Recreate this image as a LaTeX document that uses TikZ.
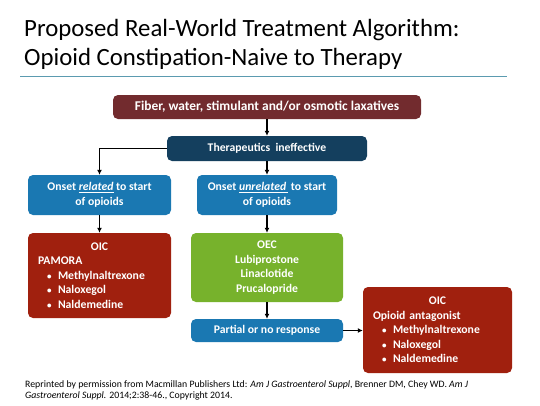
\documentclass[tikz,border=0pt]{standalone}
\usepackage{fontspec}
\setmainfont{Carlito}
\usetikzlibrary{arrows.meta}

\definecolor{topred}{HTML}{722B2E}
\definecolor{oicred}{HTML}{A0200E}
\definecolor{navy}{HTML}{143F5E}
\definecolor{onsetblue}{HTML}{1A78B2}
\definecolor{oecgreen}{HTML}{77B22C}
\definecolor{rulecol}{HTML}{5B9BB0}

\newcommand{\bul}{\hspace*{9pt}\makebox[11pt][l]{\fontsize{9}{0}\selectfont\textbullet}}

\begin{document}
\begin{tikzpicture}[x=1pt,y=-1pt,>={Latex[length=5pt,width=5pt]},
  every node/.style={font=\bfseries\fontsize{11.7}{14.5}\selectfont,text=white},
  box/.style={rounded corners=5pt,inner sep=0pt},
  link/.style={->,line width=1.3pt}]
  \useasboundingbox[fill=white] (0,0) rectangle (540,405);
  % title
  \node[anchor=north west,align=left,inner sep=0pt,text=black,
    font=\fontsize{24.8}{28.5}\selectfont] (title) at (24,19.5)
    {Proposed Real-World Treatment Algorithm:\\Opioid Constipation-Naive to Therapy};
  \draw[rulecol,line width=0.8pt] (20,76) -- (507,76);
  % boxes
  \node[box,fill=topred,minimum width=308,minimum height=24,
    font=\bfseries\fontsize{13.4}{15}\selectfont] (laxatives) at (267,107)
    {Fiber, water, stimulant and/or osmotic laxatives};
  \node[box,fill=navy,minimum width=200,minimum height=25] (ineffective) at (267,148.5)
    {Therapeutics\ \ ineffective};
  \node[box,fill=onsetblue,minimum width=143,minimum height=40,align=center] (related)
    at (99.5,195) {Onset \textit{\underline{related}} to start\\of opioids};
  \node[box,fill=onsetblue,minimum width=140,minimum height=40,align=center] (unrelated)
    at (267,195) {Onset \textit{\underline{unrelated\,}} to start\\of opioids};
  \node[box,fill=oicred,minimum width=143,minimum height=85,text width=123,align=left]
    (pamora) at (99.5,275.5)
    {\makebox[123pt]{OIC}\\PAMORA\\\bul Methylnaltrexone\\\bul Naloxegol\\\bul Naldemedine};
  \node[box,fill=oecgreen,minimum width=152,minimum height=69,align=center] (oec)
    at (267,267.5) {OEC\\Lubiprostone\\Linaclotide\\Prucalopride};
  \node[box,fill=onsetblue,minimum width=152,minimum height=23] (partial)
    at (267,330.5) {Partial or no response};
  \node[box,fill=oicred,minimum width=149,minimum height=86,text width=129,align=left]
    (antagonist) at (437.5,330)
    {\makebox[129pt]{OIC}\\Opioid antagonist\\\bul Methylnaltrexone\\\bul Naloxegol\\\bul Naldemedine};
  % arrows
  \draw[link] (laxatives) -- (ineffective);
  \draw[link] (ineffective.west) -| (related.north);
  \draw[link] (ineffective) -- (unrelated);
  \draw[link] (related) -- (pamora);
  \draw[link] (unrelated) -- (oec);
  \draw[link] (oec) -- (partial);
  \draw[link] (partial.east) -- (partial.east -| antagonist.west);
  % source
  \node[anchor=north west,align=left,inner sep=0pt,text=black,
    font=\fontsize{9.8}{11.5}\selectfont] (source) at (25,380)
    {Reprinted by permission from Macmillan Publishers Ltd: \textit{Am J Gastroenterol Suppl}, Brenner DM, Chey WD. \textit{Am J}\\
     \textit{Gastroenterol Suppl.} 2014;2:38-46., Copyright 2014.};
\end{tikzpicture}
\end{document}
